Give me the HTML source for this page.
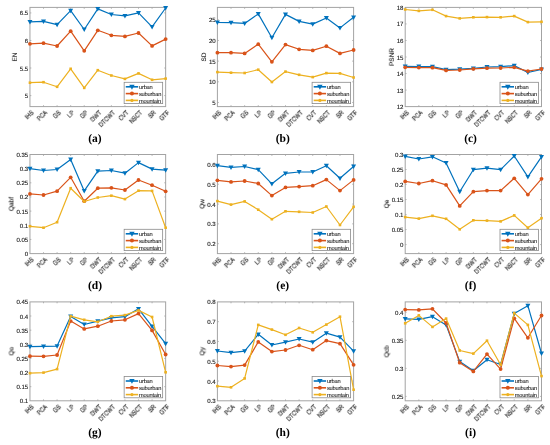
<!DOCTYPE html>
<html><head><meta charset="utf-8"><style>
html,body{margin:0;padding:0;background:#fff;}
svg{display:block;will-change:transform;}
text{text-rendering:geometricPrecision;}
.t,.xt,.yl,.lg{filter:blur(0.25px);}
.t{font-family:"Liberation Sans",sans-serif;font-size:6.1px;fill:#1a1a1a;stroke:#1a1a1a;stroke-width:0.12;}
.xt{font-family:"Liberation Sans",sans-serif;font-size:6.0px;fill:#1a1a1a;stroke:#1a1a1a;stroke-width:0.12;}
.lg{font-family:"Liberation Sans",sans-serif;font-size:5.7px;fill:#1a1a1a;stroke:#1a1a1a;stroke-width:0.08;letter-spacing:-0.18px;}
.yl{font-family:"Liberation Sans",sans-serif;font-size:6.5px;fill:#1a1a1a;stroke:#1a1a1a;stroke-width:0.12;}
.sub{font-family:"Liberation Serif",serif;font-weight:bold;font-size:11.5px;fill:#000;}
</style></head><body>
<svg width="550" height="445" viewBox="0 0 550 445">
<rect width="550" height="445" fill="#fff"/>
<g><rect x="29.95" y="7.4" width="135.7" height="99.2" fill="none" stroke="#a3a3a3" stroke-width="1"/><path d="M43.52,106.6v-1.4M43.52,7.4v1.4M57.09,106.6v-1.4M57.09,7.4v1.4M70.66,106.6v-1.4M70.66,7.4v1.4M84.23,106.6v-1.4M84.23,7.4v1.4M97.8,106.6v-1.4M97.8,7.4v1.4M111.37,106.6v-1.4M111.37,7.4v1.4M124.94,106.6v-1.4M124.94,7.4v1.4M138.51,106.6v-1.4M138.51,7.4v1.4M152.08,106.6v-1.4M152.08,7.4v1.4M29.95,95.58h1.4M165.65,95.58h-1.4M29.95,68.02h1.4M165.65,68.02h-1.4M29.95,40.47h1.4M165.65,40.47h-1.4M29.95,12.91h1.4M165.65,12.91h-1.4" stroke="#a3a3a3" stroke-width="0.8" fill="none"/><text x="28.25" y="98.08" text-anchor="end" class="t">5</text><text x="28.25" y="70.52" text-anchor="end" class="t">5.5</text><text x="28.25" y="42.97" text-anchor="end" class="t">6</text><text x="28.25" y="15.41" text-anchor="end" class="t">6.5</text><text transform="translate(16.87,57) rotate(-90)" text-anchor="middle" class="yl">EN</text><text transform="translate(34.15,113.2) rotate(-45) scale(0.94,1.12)" text-anchor="end" class="xt">IHS</text><text transform="translate(47.72,113.2) rotate(-45) scale(0.94,1.12)" text-anchor="end" class="xt">PCA</text><text transform="translate(61.29,113.2) rotate(-45) scale(0.94,1.12)" text-anchor="end" class="xt">GS</text><text transform="translate(74.86,113.2) rotate(-45) scale(0.94,1.12)" text-anchor="end" class="xt">LP</text><text transform="translate(88.43,113.2) rotate(-45) scale(0.94,1.12)" text-anchor="end" class="xt">GP</text><text transform="translate(102,113.2) rotate(-45) scale(0.94,1.12)" text-anchor="end" class="xt">DWT</text><text transform="translate(115.57,113.2) rotate(-45) scale(0.94,1.12)" text-anchor="end" class="xt">DTCWT</text><text transform="translate(129.14,113.2) rotate(-45) scale(0.94,1.12)" text-anchor="end" class="xt">CVT</text><text transform="translate(142.71,113.2) rotate(-45) scale(0.94,1.12)" text-anchor="end" class="xt">NSCT</text><text transform="translate(156.28,113.2) rotate(-45) scale(0.94,1.12)" text-anchor="end" class="xt">SR</text><text transform="translate(169.85,113.2) rotate(-45) scale(0.94,1.12)" text-anchor="end" class="xt">GTF</text><path d="M29.95,21.9L43.52,21.3L57.09,24.7L70.66,10.6L84.23,29.5L97.8,8.9L111.37,14.5L124.94,15.9L138.51,12.8L152.08,26.8L165.65,8" stroke="#0072BD" stroke-width="1.2" fill="none" stroke-linejoin="round"/><g fill="#0072BD"><path d="M27.45,20.02L32.45,20.02L29.95,24.52Z"/><path d="M41.02,19.43L46.02,19.43L43.52,23.93Z"/><path d="M54.59,22.82L59.59,22.82L57.09,27.32Z"/><path d="M68.16,8.72L73.16,8.72L70.66,13.22Z"/><path d="M81.73,27.62L86.73,27.62L84.23,32.12Z"/><path d="M95.3,7.03L100.3,7.03L97.8,11.53Z"/><path d="M108.87,12.62L113.87,12.62L111.37,17.12Z"/><path d="M122.44,14.03L127.44,14.03L124.94,18.52Z"/><path d="M136.01,10.93L141.01,10.93L138.51,15.43Z"/><path d="M149.58,24.93L154.58,24.93L152.08,29.43Z"/><path d="M163.15,6.12L168.15,6.12L165.65,10.62Z"/></g><path d="M29.95,43.8L43.52,43.2L57.09,46L70.66,31.2L84.23,50.8L97.8,30.3L111.37,35.3L124.94,36.4L138.51,33L152.08,45.9L165.65,39.1" stroke="#D95319" stroke-width="1.2" fill="none" stroke-linejoin="round"/><g fill="#D95319"><circle cx="29.95" cy="43.8" r="1.9"/><circle cx="43.52" cy="43.2" r="1.9"/><circle cx="57.09" cy="46" r="1.9"/><circle cx="70.66" cy="31.2" r="1.9"/><circle cx="84.23" cy="50.8" r="1.9"/><circle cx="97.8" cy="30.3" r="1.9"/><circle cx="111.37" cy="35.3" r="1.9"/><circle cx="124.94" cy="36.4" r="1.9"/><circle cx="138.51" cy="33" r="1.9"/><circle cx="152.08" cy="45.9" r="1.9"/><circle cx="165.65" cy="39.1" r="1.9"/></g><path d="M29.95,82.7L43.52,82.2L57.09,86.8L70.66,68.8L84.23,87.9L97.8,70.2L111.37,75.5L124.94,78.9L138.51,73.4L152.08,79.8L165.65,78.6" stroke="#EDB120" stroke-width="1.2" fill="none" stroke-linejoin="round"/><g fill="#EDB120"><rect x="28.65" y="81.4" width="2.6" height="2.6"/><rect x="42.22" y="80.9" width="2.6" height="2.6"/><rect x="55.79" y="85.5" width="2.6" height="2.6"/><rect x="69.36" y="67.5" width="2.6" height="2.6"/><rect x="82.93" y="86.6" width="2.6" height="2.6"/><rect x="96.5" y="68.9" width="2.6" height="2.6"/><rect x="110.07" y="74.2" width="2.6" height="2.6"/><rect x="123.64" y="77.6" width="2.6" height="2.6"/><rect x="137.21" y="72.1" width="2.6" height="2.6"/><rect x="150.78" y="78.5" width="2.6" height="2.6"/><rect x="164.35" y="77.3" width="2.6" height="2.6"/></g><rect x="124.15" y="82.3" width="38.5" height="21.3" fill="#fff" stroke="#8a8a8a" stroke-width="0.8"/><path d="M125.75,86.8H138.15" stroke="#0072BD" stroke-width="1.6"/><g fill="#0072BD"><path d="M129.25,84.77L134.65,84.77L131.95,89.63Z"/></g><text x="138.95" y="88.9" class="lg">urban</text><path d="M125.75,93.6H138.15" stroke="#D95319" stroke-width="1.6"/><circle cx="131.95" cy="93.6" r="2.0" fill="#D95319"/><text x="138.95" y="95.7" class="lg">suburban</text><path d="M125.75,100.4H138.15" stroke="#EDB120" stroke-width="1.6"/><circle cx="131.95" cy="100.4" r="1.6" fill="#EDB120"/><text x="138.95" y="102.5" class="lg">mountain</text><text x="95" y="141.5" text-anchor="middle" class="sub">(a)</text></g>
<g><rect x="217.4" y="7.4" width="136.2" height="99.2" fill="none" stroke="#a3a3a3" stroke-width="1"/><path d="M231.02,106.6v-1.4M231.02,7.4v1.4M244.64,106.6v-1.4M244.64,7.4v1.4M258.26,106.6v-1.4M258.26,7.4v1.4M271.88,106.6v-1.4M271.88,7.4v1.4M285.5,106.6v-1.4M285.5,7.4v1.4M299.12,106.6v-1.4M299.12,7.4v1.4M312.74,106.6v-1.4M312.74,7.4v1.4M326.36,106.6v-1.4M326.36,7.4v1.4M339.98,106.6v-1.4M339.98,7.4v1.4M217.4,102.47h1.4M353.6,102.47h-1.4M217.4,81.8h1.4M353.6,81.8h-1.4M217.4,61.13h1.4M353.6,61.13h-1.4M217.4,40.47h1.4M353.6,40.47h-1.4M217.4,19.8h1.4M353.6,19.8h-1.4" stroke="#a3a3a3" stroke-width="0.8" fill="none"/><text x="215.7" y="104.97" text-anchor="end" class="t">5</text><text x="215.7" y="84.3" text-anchor="end" class="t">10</text><text x="215.7" y="63.63" text-anchor="end" class="t">15</text><text x="215.7" y="42.97" text-anchor="end" class="t">20</text><text x="215.7" y="22.3" text-anchor="end" class="t">25</text><text transform="translate(206.02,57) rotate(-90)" text-anchor="middle" class="yl">SD</text><text transform="translate(221.6,113.2) rotate(-45) scale(0.94,1.12)" text-anchor="end" class="xt">IHS</text><text transform="translate(235.22,113.2) rotate(-45) scale(0.94,1.12)" text-anchor="end" class="xt">PCA</text><text transform="translate(248.84,113.2) rotate(-45) scale(0.94,1.12)" text-anchor="end" class="xt">GS</text><text transform="translate(262.46,113.2) rotate(-45) scale(0.94,1.12)" text-anchor="end" class="xt">LP</text><text transform="translate(276.08,113.2) rotate(-45) scale(0.94,1.12)" text-anchor="end" class="xt">GP</text><text transform="translate(289.7,113.2) rotate(-45) scale(0.94,1.12)" text-anchor="end" class="xt">DWT</text><text transform="translate(303.32,113.2) rotate(-45) scale(0.94,1.12)" text-anchor="end" class="xt">DTCWT</text><text transform="translate(316.94,113.2) rotate(-45) scale(0.94,1.12)" text-anchor="end" class="xt">CVT</text><text transform="translate(330.56,113.2) rotate(-45) scale(0.94,1.12)" text-anchor="end" class="xt">NSCT</text><text transform="translate(344.18,113.2) rotate(-45) scale(0.94,1.12)" text-anchor="end" class="xt">SR</text><text transform="translate(357.8,113.2) rotate(-45) scale(0.94,1.12)" text-anchor="end" class="xt">GTF</text><path d="M217.4,22.5L231.02,22.7L244.64,23.4L258.26,13.9L271.88,37.7L285.5,14.4L299.12,21.4L312.74,24.1L326.36,18L339.98,27.9L353.6,17.3" stroke="#0072BD" stroke-width="1.2" fill="none" stroke-linejoin="round"/><g fill="#0072BD"><path d="M214.9,20.62L219.9,20.62L217.4,25.12Z"/><path d="M228.52,20.82L233.52,20.82L231.02,25.32Z"/><path d="M242.14,21.52L247.14,21.52L244.64,26.02Z"/><path d="M255.76,12.03L260.76,12.03L258.26,16.52Z"/><path d="M269.38,35.83L274.38,35.83L271.88,40.33Z"/><path d="M283,12.53L288,12.53L285.5,17.02Z"/><path d="M296.62,19.52L301.62,19.52L299.12,24.02Z"/><path d="M310.24,22.23L315.24,22.23L312.74,26.73Z"/><path d="M323.86,16.12L328.86,16.12L326.36,20.62Z"/><path d="M337.48,26.02L342.48,26.02L339.98,30.52Z"/><path d="M351.1,15.43L356.1,15.43L353.6,19.93Z"/></g><path d="M217.4,52.7L231.02,52.7L244.64,53.4L258.26,44.2L271.88,61.8L285.5,44.6L299.12,49.3L312.74,50.4L326.36,46.2L339.98,53.4L353.6,50" stroke="#D95319" stroke-width="1.2" fill="none" stroke-linejoin="round"/><g fill="#D95319"><circle cx="217.4" cy="52.7" r="1.9"/><circle cx="231.02" cy="52.7" r="1.9"/><circle cx="244.64" cy="53.4" r="1.9"/><circle cx="258.26" cy="44.2" r="1.9"/><circle cx="271.88" cy="61.8" r="1.9"/><circle cx="285.5" cy="44.6" r="1.9"/><circle cx="299.12" cy="49.3" r="1.9"/><circle cx="312.74" cy="50.4" r="1.9"/><circle cx="326.36" cy="46.2" r="1.9"/><circle cx="339.98" cy="53.4" r="1.9"/><circle cx="353.6" cy="50" r="1.9"/></g><path d="M217.4,72.1L231.02,72.7L244.64,73L258.26,69.7L271.88,82L285.5,71.6L299.12,74.8L312.74,77.1L326.36,73.1L339.98,73.4L353.6,77.5" stroke="#EDB120" stroke-width="1.2" fill="none" stroke-linejoin="round"/><g fill="#EDB120"><rect x="216.1" y="70.8" width="2.6" height="2.6"/><rect x="229.72" y="71.4" width="2.6" height="2.6"/><rect x="243.34" y="71.7" width="2.6" height="2.6"/><rect x="256.96" y="68.4" width="2.6" height="2.6"/><rect x="270.58" y="80.7" width="2.6" height="2.6"/><rect x="284.2" y="70.3" width="2.6" height="2.6"/><rect x="297.82" y="73.5" width="2.6" height="2.6"/><rect x="311.44" y="75.8" width="2.6" height="2.6"/><rect x="325.06" y="71.8" width="2.6" height="2.6"/><rect x="338.68" y="72.1" width="2.6" height="2.6"/><rect x="352.3" y="76.2" width="2.6" height="2.6"/></g><rect x="312.1" y="82.3" width="38.5" height="21.3" fill="#fff" stroke="#8a8a8a" stroke-width="0.8"/><path d="M313.7,86.8H326.1" stroke="#0072BD" stroke-width="1.6"/><g fill="#0072BD"><path d="M317.2,84.77L322.6,84.77L319.9,89.63Z"/></g><text x="326.9" y="88.9" class="lg">urban</text><path d="M313.7,93.6H326.1" stroke="#D95319" stroke-width="1.6"/><circle cx="319.9" cy="93.6" r="2.0" fill="#D95319"/><text x="326.9" y="95.7" class="lg">suburban</text><path d="M313.7,100.4H326.1" stroke="#EDB120" stroke-width="1.6"/><circle cx="319.9" cy="100.4" r="1.6" fill="#EDB120"/><text x="326.9" y="102.5" class="lg">mountain</text><text x="282.7" y="141.5" text-anchor="middle" class="sub">(b)</text></g>
<g><rect x="405.2" y="7.4" width="136.3" height="99.2" fill="none" stroke="#a3a3a3" stroke-width="1"/><path d="M418.83,106.6v-1.4M418.83,7.4v1.4M432.46,106.6v-1.4M432.46,7.4v1.4M446.09,106.6v-1.4M446.09,7.4v1.4M459.72,106.6v-1.4M459.72,7.4v1.4M473.35,106.6v-1.4M473.35,7.4v1.4M486.98,106.6v-1.4M486.98,7.4v1.4M500.61,106.6v-1.4M500.61,7.4v1.4M514.24,106.6v-1.4M514.24,7.4v1.4M527.87,106.6v-1.4M527.87,7.4v1.4M405.2,90.07h1.4M541.5,90.07h-1.4M405.2,73.53h1.4M541.5,73.53h-1.4M405.2,57h1.4M541.5,57h-1.4M405.2,40.47h1.4M541.5,40.47h-1.4M405.2,23.93h1.4M541.5,23.93h-1.4" stroke="#a3a3a3" stroke-width="0.8" fill="none"/><text x="403.5" y="109.1" text-anchor="end" class="t">12</text><text x="403.5" y="92.57" text-anchor="end" class="t">13</text><text x="403.5" y="76.03" text-anchor="end" class="t">14</text><text x="403.5" y="59.5" text-anchor="end" class="t">15</text><text x="403.5" y="42.97" text-anchor="end" class="t">16</text><text x="403.5" y="26.43" text-anchor="end" class="t">17</text><text x="403.5" y="9.9" text-anchor="end" class="t">18</text><text transform="translate(393.82,57) rotate(-90)" text-anchor="middle" class="yl">PSNR</text><text transform="translate(409.4,113.2) rotate(-45) scale(0.94,1.12)" text-anchor="end" class="xt">IHS</text><text transform="translate(423.03,113.2) rotate(-45) scale(0.94,1.12)" text-anchor="end" class="xt">PCA</text><text transform="translate(436.66,113.2) rotate(-45) scale(0.94,1.12)" text-anchor="end" class="xt">GS</text><text transform="translate(450.29,113.2) rotate(-45) scale(0.94,1.12)" text-anchor="end" class="xt">LP</text><text transform="translate(463.92,113.2) rotate(-45) scale(0.94,1.12)" text-anchor="end" class="xt">GP</text><text transform="translate(477.55,113.2) rotate(-45) scale(0.94,1.12)" text-anchor="end" class="xt">DWT</text><text transform="translate(491.18,113.2) rotate(-45) scale(0.94,1.12)" text-anchor="end" class="xt">DTCWT</text><text transform="translate(504.81,113.2) rotate(-45) scale(0.94,1.12)" text-anchor="end" class="xt">CVT</text><text transform="translate(518.44,113.2) rotate(-45) scale(0.94,1.12)" text-anchor="end" class="xt">NSCT</text><text transform="translate(532.07,113.2) rotate(-45) scale(0.94,1.12)" text-anchor="end" class="xt">SR</text><text transform="translate(545.7,113.2) rotate(-45) scale(0.94,1.12)" text-anchor="end" class="xt">GTF</text><path d="M405.2,66.3L418.83,66.5L432.46,66.6L446.09,69.6L459.72,69.2L473.35,68.3L486.98,67L500.61,66.6L514.24,65.6L527.87,72.5L541.5,69.3" stroke="#0072BD" stroke-width="1.2" fill="none" stroke-linejoin="round"/><g fill="#0072BD"><path d="M402.7,64.42L407.7,64.42L405.2,68.92Z"/><path d="M416.33,64.62L421.33,64.62L418.83,69.12Z"/><path d="M429.96,64.72L434.96,64.72L432.46,69.22Z"/><path d="M443.59,67.72L448.59,67.72L446.09,72.22Z"/><path d="M457.22,67.33L462.22,67.33L459.72,71.83Z"/><path d="M470.85,66.42L475.85,66.42L473.35,70.92Z"/><path d="M484.48,65.12L489.48,65.12L486.98,69.62Z"/><path d="M498.11,64.72L503.11,64.72L500.61,69.22Z"/><path d="M511.74,63.72L516.74,63.72L514.24,68.22Z"/><path d="M525.37,70.62L530.37,70.62L527.87,75.12Z"/><path d="M539,67.42L544,67.42L541.5,71.92Z"/></g><path d="M405.2,67.3L418.83,67.6L432.46,67.7L446.09,70.4L459.72,70L473.35,68.9L486.98,68.2L500.61,68L514.24,67.3L527.87,71.1L541.5,69" stroke="#D95319" stroke-width="1.2" fill="none" stroke-linejoin="round"/><g fill="#D95319"><circle cx="405.2" cy="67.3" r="1.9"/><circle cx="418.83" cy="67.6" r="1.9"/><circle cx="432.46" cy="67.7" r="1.9"/><circle cx="446.09" cy="70.4" r="1.9"/><circle cx="459.72" cy="70" r="1.9"/><circle cx="473.35" cy="68.9" r="1.9"/><circle cx="486.98" cy="68.2" r="1.9"/><circle cx="500.61" cy="68" r="1.9"/><circle cx="514.24" cy="67.3" r="1.9"/><circle cx="527.87" cy="71.1" r="1.9"/><circle cx="541.5" cy="69" r="1.9"/></g><path d="M405.2,9.5L418.83,10.9L432.46,9.8L446.09,16.1L459.72,18.4L473.35,17.3L486.98,17.1L500.61,17.3L514.24,16.1L527.87,22.1L541.5,21.8" stroke="#EDB120" stroke-width="1.2" fill="none" stroke-linejoin="round"/><g fill="#EDB120"><rect x="403.9" y="8.2" width="2.6" height="2.6"/><rect x="417.53" y="9.6" width="2.6" height="2.6"/><rect x="431.16" y="8.5" width="2.6" height="2.6"/><rect x="444.79" y="14.8" width="2.6" height="2.6"/><rect x="458.42" y="17.1" width="2.6" height="2.6"/><rect x="472.05" y="16" width="2.6" height="2.6"/><rect x="485.68" y="15.8" width="2.6" height="2.6"/><rect x="499.31" y="16" width="2.6" height="2.6"/><rect x="512.94" y="14.8" width="2.6" height="2.6"/><rect x="526.57" y="20.8" width="2.6" height="2.6"/><rect x="540.2" y="20.5" width="2.6" height="2.6"/></g><rect x="500" y="82.3" width="38.5" height="21.3" fill="#fff" stroke="#8a8a8a" stroke-width="0.8"/><path d="M501.6,86.8H514" stroke="#0072BD" stroke-width="1.6"/><g fill="#0072BD"><path d="M505.1,84.77L510.5,84.77L507.8,89.63Z"/></g><text x="514.8" y="88.9" class="lg">urban</text><path d="M501.6,93.6H514" stroke="#D95319" stroke-width="1.6"/><circle cx="507.8" cy="93.6" r="2.0" fill="#D95319"/><text x="514.8" y="95.7" class="lg">suburban</text><path d="M501.6,100.4H514" stroke="#EDB120" stroke-width="1.6"/><circle cx="507.8" cy="100.4" r="1.6" fill="#EDB120"/><text x="514.8" y="102.5" class="lg">mountain</text><text x="470.55" y="141.5" text-anchor="middle" class="sub">(c)</text></g>
<g><rect x="29.95" y="154.5" width="135.7" height="99.1" fill="none" stroke="#a3a3a3" stroke-width="1"/><path d="M43.52,253.6v-1.4M43.52,154.5v1.4M57.09,253.6v-1.4M57.09,154.5v1.4M70.66,253.6v-1.4M70.66,154.5v1.4M84.23,253.6v-1.4M84.23,154.5v1.4M97.8,253.6v-1.4M97.8,154.5v1.4M111.37,253.6v-1.4M111.37,154.5v1.4M124.94,253.6v-1.4M124.94,154.5v1.4M138.51,253.6v-1.4M138.51,154.5v1.4M152.08,253.6v-1.4M152.08,154.5v1.4M29.95,239.44h1.4M165.65,239.44h-1.4M29.95,225.29h1.4M165.65,225.29h-1.4M29.95,211.13h1.4M165.65,211.13h-1.4M29.95,196.97h1.4M165.65,196.97h-1.4M29.95,182.81h1.4M165.65,182.81h-1.4M29.95,168.66h1.4M165.65,168.66h-1.4" stroke="#a3a3a3" stroke-width="0.8" fill="none"/><text x="28.25" y="256.1" text-anchor="end" class="t">0</text><text x="28.25" y="241.94" text-anchor="end" class="t">0.05</text><text x="28.25" y="227.79" text-anchor="end" class="t">0.1</text><text x="28.25" y="213.63" text-anchor="end" class="t">0.15</text><text x="28.25" y="199.47" text-anchor="end" class="t">0.2</text><text x="28.25" y="185.31" text-anchor="end" class="t">0.25</text><text x="28.25" y="171.16" text-anchor="end" class="t">0.3</text><text x="28.25" y="157" text-anchor="end" class="t">0.35</text><text transform="translate(13.48,204.05) rotate(-90)" text-anchor="middle" class="yl">Qabf</text><text transform="translate(34.15,260.2) rotate(-45) scale(0.94,1.12)" text-anchor="end" class="xt">IHS</text><text transform="translate(47.72,260.2) rotate(-45) scale(0.94,1.12)" text-anchor="end" class="xt">PCA</text><text transform="translate(61.29,260.2) rotate(-45) scale(0.94,1.12)" text-anchor="end" class="xt">GS</text><text transform="translate(74.86,260.2) rotate(-45) scale(0.94,1.12)" text-anchor="end" class="xt">LP</text><text transform="translate(88.43,260.2) rotate(-45) scale(0.94,1.12)" text-anchor="end" class="xt">GP</text><text transform="translate(102,260.2) rotate(-45) scale(0.94,1.12)" text-anchor="end" class="xt">DWT</text><text transform="translate(115.57,260.2) rotate(-45) scale(0.94,1.12)" text-anchor="end" class="xt">DTCWT</text><text transform="translate(129.14,260.2) rotate(-45) scale(0.94,1.12)" text-anchor="end" class="xt">CVT</text><text transform="translate(142.71,260.2) rotate(-45) scale(0.94,1.12)" text-anchor="end" class="xt">NSCT</text><text transform="translate(156.28,260.2) rotate(-45) scale(0.94,1.12)" text-anchor="end" class="xt">SR</text><text transform="translate(169.85,260.2) rotate(-45) scale(0.94,1.12)" text-anchor="end" class="xt">GTF</text><path d="M29.95,168.7L43.52,170.5L57.09,169.5L70.66,159.5L84.23,190.9L97.8,171.1L111.37,170.5L124.94,173.2L138.51,162.6L152.08,169.1L165.65,170.2" stroke="#0072BD" stroke-width="1.2" fill="none" stroke-linejoin="round"/><g fill="#0072BD"><path d="M27.45,166.82L32.45,166.82L29.95,171.32Z"/><path d="M41.02,168.62L46.02,168.62L43.52,173.12Z"/><path d="M54.59,167.62L59.59,167.62L57.09,172.12Z"/><path d="M68.16,157.62L73.16,157.62L70.66,162.12Z"/><path d="M81.73,189.03L86.73,189.03L84.23,193.53Z"/><path d="M95.3,169.22L100.3,169.22L97.8,173.72Z"/><path d="M108.87,168.62L113.87,168.62L111.37,173.12Z"/><path d="M122.44,171.32L127.44,171.32L124.94,175.82Z"/><path d="M136.01,160.72L141.01,160.72L138.51,165.22Z"/><path d="M149.58,167.22L154.58,167.22L152.08,171.72Z"/><path d="M163.15,168.32L168.15,168.32L165.65,172.82Z"/></g><path d="M29.95,193.9L43.52,195L57.09,191.2L70.66,177.3L84.23,201.2L97.8,188.2L111.37,187.8L124.94,190L138.51,180L152.08,185.2L165.65,191.3" stroke="#D95319" stroke-width="1.2" fill="none" stroke-linejoin="round"/><g fill="#D95319"><circle cx="29.95" cy="193.9" r="1.9"/><circle cx="43.52" cy="195" r="1.9"/><circle cx="57.09" cy="191.2" r="1.9"/><circle cx="70.66" cy="177.3" r="1.9"/><circle cx="84.23" cy="201.2" r="1.9"/><circle cx="97.8" cy="188.2" r="1.9"/><circle cx="111.37" cy="187.8" r="1.9"/><circle cx="124.94" cy="190" r="1.9"/><circle cx="138.51" cy="180" r="1.9"/><circle cx="152.08" cy="185.2" r="1.9"/><circle cx="165.65" cy="191.3" r="1.9"/></g><path d="M29.95,226.3L43.52,227.7L57.09,222.2L70.66,188.2L84.23,201.5L97.8,197.5L111.37,195.7L124.94,199.1L138.51,190.7L152.08,190.9L165.65,227.7" stroke="#EDB120" stroke-width="1.2" fill="none" stroke-linejoin="round"/><g fill="#EDB120"><rect x="28.65" y="225" width="2.6" height="2.6"/><rect x="42.22" y="226.4" width="2.6" height="2.6"/><rect x="55.79" y="220.9" width="2.6" height="2.6"/><rect x="69.36" y="186.9" width="2.6" height="2.6"/><rect x="82.93" y="200.2" width="2.6" height="2.6"/><rect x="96.5" y="196.2" width="2.6" height="2.6"/><rect x="110.07" y="194.4" width="2.6" height="2.6"/><rect x="123.64" y="197.8" width="2.6" height="2.6"/><rect x="137.21" y="189.4" width="2.6" height="2.6"/><rect x="150.78" y="189.6" width="2.6" height="2.6"/><rect x="164.35" y="226.4" width="2.6" height="2.6"/></g><rect x="124.15" y="229.3" width="38.5" height="21.3" fill="#fff" stroke="#8a8a8a" stroke-width="0.8"/><path d="M125.75,233.8H138.15" stroke="#0072BD" stroke-width="1.6"/><g fill="#0072BD"><path d="M129.25,231.77L134.65,231.77L131.95,236.63Z"/></g><text x="138.95" y="235.9" class="lg">urban</text><path d="M125.75,240.6H138.15" stroke="#D95319" stroke-width="1.6"/><circle cx="131.95" cy="240.6" r="2.0" fill="#D95319"/><text x="138.95" y="242.7" class="lg">suburban</text><path d="M125.75,247.4H138.15" stroke="#EDB120" stroke-width="1.6"/><circle cx="131.95" cy="247.4" r="1.6" fill="#EDB120"/><text x="138.95" y="249.5" class="lg">mountain</text><text x="95" y="288.8" text-anchor="middle" class="sub">(d)</text></g>
<g><rect x="217.4" y="154.5" width="136.2" height="99.1" fill="none" stroke="#a3a3a3" stroke-width="1"/><path d="M231.02,253.6v-1.4M231.02,154.5v1.4M244.64,253.6v-1.4M244.64,154.5v1.4M258.26,253.6v-1.4M258.26,154.5v1.4M271.88,253.6v-1.4M271.88,154.5v1.4M285.5,253.6v-1.4M285.5,154.5v1.4M299.12,253.6v-1.4M299.12,154.5v1.4M312.74,253.6v-1.4M312.74,154.5v1.4M326.36,253.6v-1.4M326.36,154.5v1.4M339.98,253.6v-1.4M339.98,154.5v1.4M217.4,243.69h1.4M353.6,243.69h-1.4M217.4,223.87h1.4M353.6,223.87h-1.4M217.4,204.05h1.4M353.6,204.05h-1.4M217.4,184.23h1.4M353.6,184.23h-1.4M217.4,164.41h1.4M353.6,164.41h-1.4" stroke="#a3a3a3" stroke-width="0.8" fill="none"/><text x="215.7" y="246.19" text-anchor="end" class="t">0.2</text><text x="215.7" y="226.37" text-anchor="end" class="t">0.3</text><text x="215.7" y="206.55" text-anchor="end" class="t">0.4</text><text x="215.7" y="186.73" text-anchor="end" class="t">0.5</text><text x="215.7" y="166.91" text-anchor="end" class="t">0.6</text><text transform="translate(204.32,204.05) rotate(-90)" text-anchor="middle" class="yl">Qw</text><text transform="translate(221.6,260.2) rotate(-45) scale(0.94,1.12)" text-anchor="end" class="xt">IHS</text><text transform="translate(235.22,260.2) rotate(-45) scale(0.94,1.12)" text-anchor="end" class="xt">PCA</text><text transform="translate(248.84,260.2) rotate(-45) scale(0.94,1.12)" text-anchor="end" class="xt">GS</text><text transform="translate(262.46,260.2) rotate(-45) scale(0.94,1.12)" text-anchor="end" class="xt">LP</text><text transform="translate(276.08,260.2) rotate(-45) scale(0.94,1.12)" text-anchor="end" class="xt">GP</text><text transform="translate(289.7,260.2) rotate(-45) scale(0.94,1.12)" text-anchor="end" class="xt">DWT</text><text transform="translate(303.32,260.2) rotate(-45) scale(0.94,1.12)" text-anchor="end" class="xt">DTCWT</text><text transform="translate(316.94,260.2) rotate(-45) scale(0.94,1.12)" text-anchor="end" class="xt">CVT</text><text transform="translate(330.56,260.2) rotate(-45) scale(0.94,1.12)" text-anchor="end" class="xt">NSCT</text><text transform="translate(344.18,260.2) rotate(-45) scale(0.94,1.12)" text-anchor="end" class="xt">SR</text><text transform="translate(357.8,260.2) rotate(-45) scale(0.94,1.12)" text-anchor="end" class="xt">GTF</text><path d="M217.4,165.7L231.02,167.3L244.64,166.5L258.26,169.7L271.88,183.8L285.5,173.3L299.12,172L312.74,172L326.36,165.7L339.98,178.3L353.6,166.5" stroke="#0072BD" stroke-width="1.2" fill="none" stroke-linejoin="round"/><g fill="#0072BD"><path d="M214.9,163.82L219.9,163.82L217.4,168.32Z"/><path d="M228.52,165.43L233.52,165.43L231.02,169.93Z"/><path d="M242.14,164.62L247.14,164.62L244.64,169.12Z"/><path d="M255.76,167.82L260.76,167.82L258.26,172.32Z"/><path d="M269.38,181.93L274.38,181.93L271.88,186.43Z"/><path d="M283,171.43L288,171.43L285.5,175.93Z"/><path d="M296.62,170.12L301.62,170.12L299.12,174.62Z"/><path d="M310.24,170.12L315.24,170.12L312.74,174.62Z"/><path d="M323.86,163.82L328.86,163.82L326.36,168.32Z"/><path d="M337.48,176.43L342.48,176.43L339.98,180.93Z"/><path d="M351.1,164.62L356.1,164.62L353.6,169.12Z"/></g><path d="M217.4,180.3L231.02,181.9L244.64,181L258.26,183.5L271.88,195.6L285.5,187.4L299.12,186.6L312.74,185.7L326.36,179.6L339.98,190.6L353.6,179.9" stroke="#D95319" stroke-width="1.2" fill="none" stroke-linejoin="round"/><g fill="#D95319"><circle cx="217.4" cy="180.3" r="1.9"/><circle cx="231.02" cy="181.9" r="1.9"/><circle cx="244.64" cy="181" r="1.9"/><circle cx="258.26" cy="183.5" r="1.9"/><circle cx="271.88" cy="195.6" r="1.9"/><circle cx="285.5" cy="187.4" r="1.9"/><circle cx="299.12" cy="186.6" r="1.9"/><circle cx="312.74" cy="185.7" r="1.9"/><circle cx="326.36" cy="179.6" r="1.9"/><circle cx="339.98" cy="190.6" r="1.9"/><circle cx="353.6" cy="179.9" r="1.9"/></g><path d="M217.4,201.1L231.02,204.6L244.64,201.4L258.26,209.7L271.88,219.2L285.5,211.3L299.12,211.8L312.74,212.5L326.36,206.5L339.98,225L353.6,206.8" stroke="#EDB120" stroke-width="1.2" fill="none" stroke-linejoin="round"/><g fill="#EDB120"><rect x="216.1" y="199.8" width="2.6" height="2.6"/><rect x="229.72" y="203.3" width="2.6" height="2.6"/><rect x="243.34" y="200.1" width="2.6" height="2.6"/><rect x="256.96" y="208.4" width="2.6" height="2.6"/><rect x="270.58" y="217.9" width="2.6" height="2.6"/><rect x="284.2" y="210" width="2.6" height="2.6"/><rect x="297.82" y="210.5" width="2.6" height="2.6"/><rect x="311.44" y="211.2" width="2.6" height="2.6"/><rect x="325.06" y="205.2" width="2.6" height="2.6"/><rect x="338.68" y="223.7" width="2.6" height="2.6"/><rect x="352.3" y="205.5" width="2.6" height="2.6"/></g><rect x="312.1" y="229.3" width="38.5" height="21.3" fill="#fff" stroke="#8a8a8a" stroke-width="0.8"/><path d="M313.7,233.8H326.1" stroke="#0072BD" stroke-width="1.6"/><g fill="#0072BD"><path d="M317.2,231.77L322.6,231.77L319.9,236.63Z"/></g><text x="326.9" y="235.9" class="lg">urban</text><path d="M313.7,240.6H326.1" stroke="#D95319" stroke-width="1.6"/><circle cx="319.9" cy="240.6" r="2.0" fill="#D95319"/><text x="326.9" y="242.7" class="lg">suburban</text><path d="M313.7,247.4H326.1" stroke="#EDB120" stroke-width="1.6"/><circle cx="319.9" cy="247.4" r="1.6" fill="#EDB120"/><text x="326.9" y="249.5" class="lg">mountain</text><text x="282.7" y="288.8" text-anchor="middle" class="sub">(e)</text></g>
<g><rect x="405.2" y="154.5" width="136.3" height="99.1" fill="none" stroke="#a3a3a3" stroke-width="1"/><path d="M418.83,253.6v-1.4M418.83,154.5v1.4M432.46,253.6v-1.4M432.46,154.5v1.4M446.09,253.6v-1.4M446.09,154.5v1.4M459.72,253.6v-1.4M459.72,154.5v1.4M473.35,253.6v-1.4M473.35,154.5v1.4M486.98,253.6v-1.4M486.98,154.5v1.4M500.61,253.6v-1.4M500.61,154.5v1.4M514.24,253.6v-1.4M514.24,154.5v1.4M527.87,253.6v-1.4M527.87,154.5v1.4M405.2,244.59h1.4M541.5,244.59h-1.4M405.2,229.58h1.4M541.5,229.58h-1.4M405.2,214.56h1.4M541.5,214.56h-1.4M405.2,199.55h1.4M541.5,199.55h-1.4M405.2,184.53h1.4M541.5,184.53h-1.4M405.2,169.52h1.4M541.5,169.52h-1.4" stroke="#a3a3a3" stroke-width="0.8" fill="none"/><text x="403.5" y="247.09" text-anchor="end" class="t">0</text><text x="403.5" y="232.08" text-anchor="end" class="t">0.05</text><text x="403.5" y="217.06" text-anchor="end" class="t">0.1</text><text x="403.5" y="202.05" text-anchor="end" class="t">0.15</text><text x="403.5" y="187.03" text-anchor="end" class="t">0.2</text><text x="403.5" y="172.02" text-anchor="end" class="t">0.25</text><text x="403.5" y="157" text-anchor="end" class="t">0.3</text><text transform="translate(388.73,204.05) rotate(-90)" text-anchor="middle" class="yl">Qe</text><text transform="translate(409.4,260.2) rotate(-45) scale(0.94,1.12)" text-anchor="end" class="xt">IHS</text><text transform="translate(423.03,260.2) rotate(-45) scale(0.94,1.12)" text-anchor="end" class="xt">PCA</text><text transform="translate(436.66,260.2) rotate(-45) scale(0.94,1.12)" text-anchor="end" class="xt">GS</text><text transform="translate(450.29,260.2) rotate(-45) scale(0.94,1.12)" text-anchor="end" class="xt">LP</text><text transform="translate(463.92,260.2) rotate(-45) scale(0.94,1.12)" text-anchor="end" class="xt">GP</text><text transform="translate(477.55,260.2) rotate(-45) scale(0.94,1.12)" text-anchor="end" class="xt">DWT</text><text transform="translate(491.18,260.2) rotate(-45) scale(0.94,1.12)" text-anchor="end" class="xt">DTCWT</text><text transform="translate(504.81,260.2) rotate(-45) scale(0.94,1.12)" text-anchor="end" class="xt">CVT</text><text transform="translate(518.44,260.2) rotate(-45) scale(0.94,1.12)" text-anchor="end" class="xt">NSCT</text><text transform="translate(532.07,260.2) rotate(-45) scale(0.94,1.12)" text-anchor="end" class="xt">SR</text><text transform="translate(545.7,260.2) rotate(-45) scale(0.94,1.12)" text-anchor="end" class="xt">GTF</text><path d="M405.2,156.3L418.83,159L432.46,156.8L446.09,163L459.72,191.7L473.35,169.7L486.98,168.1L500.61,169.7L514.24,156L527.87,176.8L541.5,156.8" stroke="#0072BD" stroke-width="1.2" fill="none" stroke-linejoin="round"/><g fill="#0072BD"><path d="M402.7,154.43L407.7,154.43L405.2,158.93Z"/><path d="M416.33,157.12L421.33,157.12L418.83,161.62Z"/><path d="M429.96,154.93L434.96,154.93L432.46,159.43Z"/><path d="M443.59,161.12L448.59,161.12L446.09,165.62Z"/><path d="M457.22,189.82L462.22,189.82L459.72,194.32Z"/><path d="M470.85,167.82L475.85,167.82L473.35,172.32Z"/><path d="M484.48,166.22L489.48,166.22L486.98,170.72Z"/><path d="M498.11,167.82L503.11,167.82L500.61,172.32Z"/><path d="M511.74,154.12L516.74,154.12L514.24,158.62Z"/><path d="M525.37,174.93L530.37,174.93L527.87,179.43Z"/><path d="M539,154.93L544,154.93L541.5,159.43Z"/></g><path d="M405.2,181.4L418.83,183.5L432.46,180.7L446.09,184.9L459.72,205.9L473.35,191.7L486.98,190.6L500.61,190.6L514.24,178.3L527.87,194.6L541.5,178.8" stroke="#D95319" stroke-width="1.2" fill="none" stroke-linejoin="round"/><g fill="#D95319"><circle cx="405.2" cy="181.4" r="1.9"/><circle cx="418.83" cy="183.5" r="1.9"/><circle cx="432.46" cy="180.7" r="1.9"/><circle cx="446.09" cy="184.9" r="1.9"/><circle cx="459.72" cy="205.9" r="1.9"/><circle cx="473.35" cy="191.7" r="1.9"/><circle cx="486.98" cy="190.6" r="1.9"/><circle cx="500.61" cy="190.6" r="1.9"/><circle cx="514.24" cy="178.3" r="1.9"/><circle cx="527.87" cy="194.6" r="1.9"/><circle cx="541.5" cy="178.8" r="1.9"/></g><path d="M405.2,217.1L418.83,218.6L432.46,215.8L446.09,218.8L459.72,229.3L473.35,220.3L486.98,220.6L500.61,221.4L514.24,215.4L527.87,227.7L541.5,218.2" stroke="#EDB120" stroke-width="1.2" fill="none" stroke-linejoin="round"/><g fill="#EDB120"><rect x="403.9" y="215.8" width="2.6" height="2.6"/><rect x="417.53" y="217.3" width="2.6" height="2.6"/><rect x="431.16" y="214.5" width="2.6" height="2.6"/><rect x="444.79" y="217.5" width="2.6" height="2.6"/><rect x="458.42" y="228" width="2.6" height="2.6"/><rect x="472.05" y="219" width="2.6" height="2.6"/><rect x="485.68" y="219.3" width="2.6" height="2.6"/><rect x="499.31" y="220.1" width="2.6" height="2.6"/><rect x="512.94" y="214.1" width="2.6" height="2.6"/><rect x="526.57" y="226.4" width="2.6" height="2.6"/><rect x="540.2" y="216.9" width="2.6" height="2.6"/></g><rect x="500" y="229.3" width="38.5" height="21.3" fill="#fff" stroke="#8a8a8a" stroke-width="0.8"/><path d="M501.6,233.8H514" stroke="#0072BD" stroke-width="1.6"/><g fill="#0072BD"><path d="M505.1,231.77L510.5,231.77L507.8,236.63Z"/></g><text x="514.8" y="235.9" class="lg">urban</text><path d="M501.6,240.6H514" stroke="#D95319" stroke-width="1.6"/><circle cx="507.8" cy="240.6" r="2.0" fill="#D95319"/><text x="514.8" y="242.7" class="lg">suburban</text><path d="M501.6,247.4H514" stroke="#EDB120" stroke-width="1.6"/><circle cx="507.8" cy="247.4" r="1.6" fill="#EDB120"/><text x="514.8" y="249.5" class="lg">mountain</text><text x="470.55" y="288.8" text-anchor="middle" class="sub">(f)</text></g>
<g><rect x="29.95" y="301.9" width="135.7" height="98.9" fill="none" stroke="#a3a3a3" stroke-width="1"/><path d="M43.52,400.8v-1.4M43.52,301.9v1.4M57.09,400.8v-1.4M57.09,301.9v1.4M70.66,400.8v-1.4M70.66,301.9v1.4M84.23,400.8v-1.4M84.23,301.9v1.4M97.8,400.8v-1.4M97.8,301.9v1.4M111.37,400.8v-1.4M111.37,301.9v1.4M124.94,400.8v-1.4M124.94,301.9v1.4M138.51,400.8v-1.4M138.51,301.9v1.4M152.08,400.8v-1.4M152.08,301.9v1.4M29.95,386.67h1.4M165.65,386.67h-1.4M29.95,372.54h1.4M165.65,372.54h-1.4M29.95,358.41h1.4M165.65,358.41h-1.4M29.95,344.29h1.4M165.65,344.29h-1.4M29.95,330.16h1.4M165.65,330.16h-1.4M29.95,316.03h1.4M165.65,316.03h-1.4" stroke="#a3a3a3" stroke-width="0.8" fill="none"/><text x="28.25" y="403.3" text-anchor="end" class="t">0.1</text><text x="28.25" y="389.17" text-anchor="end" class="t">0.15</text><text x="28.25" y="375.04" text-anchor="end" class="t">0.2</text><text x="28.25" y="360.91" text-anchor="end" class="t">0.25</text><text x="28.25" y="346.79" text-anchor="end" class="t">0.3</text><text x="28.25" y="332.66" text-anchor="end" class="t">0.35</text><text x="28.25" y="318.53" text-anchor="end" class="t">0.4</text><text x="28.25" y="304.4" text-anchor="end" class="t">0.45</text><text transform="translate(13.48,351.35) rotate(-90)" text-anchor="middle" class="yl">Qo</text><text transform="translate(34.15,407.4) rotate(-45) scale(0.94,1.12)" text-anchor="end" class="xt">IHS</text><text transform="translate(47.72,407.4) rotate(-45) scale(0.94,1.12)" text-anchor="end" class="xt">PCA</text><text transform="translate(61.29,407.4) rotate(-45) scale(0.94,1.12)" text-anchor="end" class="xt">GS</text><text transform="translate(74.86,407.4) rotate(-45) scale(0.94,1.12)" text-anchor="end" class="xt">LP</text><text transform="translate(88.43,407.4) rotate(-45) scale(0.94,1.12)" text-anchor="end" class="xt">GP</text><text transform="translate(102,407.4) rotate(-45) scale(0.94,1.12)" text-anchor="end" class="xt">DWT</text><text transform="translate(115.57,407.4) rotate(-45) scale(0.94,1.12)" text-anchor="end" class="xt">DTCWT</text><text transform="translate(129.14,407.4) rotate(-45) scale(0.94,1.12)" text-anchor="end" class="xt">CVT</text><text transform="translate(142.71,407.4) rotate(-45) scale(0.94,1.12)" text-anchor="end" class="xt">NSCT</text><text transform="translate(156.28,407.4) rotate(-45) scale(0.94,1.12)" text-anchor="end" class="xt">SR</text><text transform="translate(169.85,407.4) rotate(-45) scale(0.94,1.12)" text-anchor="end" class="xt">GTF</text><path d="M29.95,346.6L43.52,346.4L57.09,346.1L70.66,316.4L84.23,324.5L97.8,321.1L111.37,317.8L124.94,316.7L138.51,308.8L152.08,326.4L165.65,343.7" stroke="#0072BD" stroke-width="1.2" fill="none" stroke-linejoin="round"/><g fill="#0072BD"><path d="M27.45,344.73L32.45,344.73L29.95,349.23Z"/><path d="M41.02,344.52L46.02,344.52L43.52,349.02Z"/><path d="M54.59,344.23L59.59,344.23L57.09,348.73Z"/><path d="M68.16,314.52L73.16,314.52L70.66,319.02Z"/><path d="M81.73,322.62L86.73,322.62L84.23,327.12Z"/><path d="M95.3,319.23L100.3,319.23L97.8,323.73Z"/><path d="M108.87,315.93L113.87,315.93L111.37,320.43Z"/><path d="M122.44,314.82L127.44,314.82L124.94,319.32Z"/><path d="M136.01,306.93L141.01,306.93L138.51,311.43Z"/><path d="M149.58,324.52L154.58,324.52L152.08,329.02Z"/><path d="M163.15,341.82L168.15,341.82L165.65,346.32Z"/></g><path d="M29.95,356.2L43.52,356.3L57.09,355L70.66,321.1L84.23,328.9L97.8,326.2L111.37,321L124.94,319.8L138.51,313.6L152.08,330.4L165.65,354.5" stroke="#D95319" stroke-width="1.2" fill="none" stroke-linejoin="round"/><g fill="#D95319"><circle cx="29.95" cy="356.2" r="1.9"/><circle cx="43.52" cy="356.3" r="1.9"/><circle cx="57.09" cy="355" r="1.9"/><circle cx="70.66" cy="321.1" r="1.9"/><circle cx="84.23" cy="328.9" r="1.9"/><circle cx="97.8" cy="326.2" r="1.9"/><circle cx="111.37" cy="321" r="1.9"/><circle cx="124.94" cy="319.8" r="1.9"/><circle cx="138.51" cy="313.6" r="1.9"/><circle cx="152.08" cy="330.4" r="1.9"/><circle cx="165.65" cy="354.5" r="1.9"/></g><path d="M29.95,373.2L43.52,372.6L57.09,369.1L70.66,316.2L84.23,319.8L97.8,321.8L111.37,316.2L124.94,315.1L138.51,310.4L152.08,317L165.65,372.3" stroke="#EDB120" stroke-width="1.2" fill="none" stroke-linejoin="round"/><g fill="#EDB120"><rect x="28.65" y="371.9" width="2.6" height="2.6"/><rect x="42.22" y="371.3" width="2.6" height="2.6"/><rect x="55.79" y="367.8" width="2.6" height="2.6"/><rect x="69.36" y="314.9" width="2.6" height="2.6"/><rect x="82.93" y="318.5" width="2.6" height="2.6"/><rect x="96.5" y="320.5" width="2.6" height="2.6"/><rect x="110.07" y="314.9" width="2.6" height="2.6"/><rect x="123.64" y="313.8" width="2.6" height="2.6"/><rect x="137.21" y="309.1" width="2.6" height="2.6"/><rect x="150.78" y="315.7" width="2.6" height="2.6"/><rect x="164.35" y="371" width="2.6" height="2.6"/></g><rect x="124.15" y="376.5" width="38.5" height="21.3" fill="#fff" stroke="#8a8a8a" stroke-width="0.8"/><path d="M125.75,381H138.15" stroke="#0072BD" stroke-width="1.6"/><g fill="#0072BD"><path d="M129.25,378.98L134.65,378.98L131.95,383.83Z"/></g><text x="138.95" y="383.1" class="lg">urban</text><path d="M125.75,387.8H138.15" stroke="#D95319" stroke-width="1.6"/><circle cx="131.95" cy="387.8" r="2.0" fill="#D95319"/><text x="138.95" y="389.9" class="lg">suburban</text><path d="M125.75,394.6H138.15" stroke="#EDB120" stroke-width="1.6"/><circle cx="131.95" cy="394.6" r="1.6" fill="#EDB120"/><text x="138.95" y="396.7" class="lg">mountain</text><text x="95" y="436" text-anchor="middle" class="sub">(g)</text></g>
<g><rect x="217.4" y="301.9" width="136.2" height="98.9" fill="none" stroke="#a3a3a3" stroke-width="1"/><path d="M231.02,400.8v-1.4M231.02,301.9v1.4M244.64,400.8v-1.4M244.64,301.9v1.4M258.26,400.8v-1.4M258.26,301.9v1.4M271.88,400.8v-1.4M271.88,301.9v1.4M285.5,400.8v-1.4M285.5,301.9v1.4M299.12,400.8v-1.4M299.12,301.9v1.4M312.74,400.8v-1.4M312.74,301.9v1.4M326.36,400.8v-1.4M326.36,301.9v1.4M339.98,400.8v-1.4M339.98,301.9v1.4M217.4,381.02h1.4M353.6,381.02h-1.4M217.4,361.24h1.4M353.6,361.24h-1.4M217.4,341.46h1.4M353.6,341.46h-1.4M217.4,321.68h1.4M353.6,321.68h-1.4" stroke="#a3a3a3" stroke-width="0.8" fill="none"/><text x="215.7" y="403.3" text-anchor="end" class="t">0.3</text><text x="215.7" y="383.52" text-anchor="end" class="t">0.4</text><text x="215.7" y="363.74" text-anchor="end" class="t">0.5</text><text x="215.7" y="343.96" text-anchor="end" class="t">0.6</text><text x="215.7" y="324.18" text-anchor="end" class="t">0.7</text><text x="215.7" y="304.4" text-anchor="end" class="t">0.8</text><text transform="translate(204.32,351.35) rotate(-90)" text-anchor="middle" class="yl">Qy</text><text transform="translate(221.6,407.4) rotate(-45) scale(0.94,1.12)" text-anchor="end" class="xt">IHS</text><text transform="translate(235.22,407.4) rotate(-45) scale(0.94,1.12)" text-anchor="end" class="xt">PCA</text><text transform="translate(248.84,407.4) rotate(-45) scale(0.94,1.12)" text-anchor="end" class="xt">GS</text><text transform="translate(262.46,407.4) rotate(-45) scale(0.94,1.12)" text-anchor="end" class="xt">LP</text><text transform="translate(276.08,407.4) rotate(-45) scale(0.94,1.12)" text-anchor="end" class="xt">GP</text><text transform="translate(289.7,407.4) rotate(-45) scale(0.94,1.12)" text-anchor="end" class="xt">DWT</text><text transform="translate(303.32,407.4) rotate(-45) scale(0.94,1.12)" text-anchor="end" class="xt">DTCWT</text><text transform="translate(316.94,407.4) rotate(-45) scale(0.94,1.12)" text-anchor="end" class="xt">CVT</text><text transform="translate(330.56,407.4) rotate(-45) scale(0.94,1.12)" text-anchor="end" class="xt">NSCT</text><text transform="translate(344.18,407.4) rotate(-45) scale(0.94,1.12)" text-anchor="end" class="xt">SR</text><text transform="translate(357.8,407.4) rotate(-45) scale(0.94,1.12)" text-anchor="end" class="xt">GTF</text><path d="M217.4,351L231.02,352.7L244.64,351.1L258.26,334.3L271.88,345L285.5,342.2L299.12,339L312.74,342.2L326.36,333.2L339.98,337.1L353.6,351.2" stroke="#0072BD" stroke-width="1.2" fill="none" stroke-linejoin="round"/><g fill="#0072BD"><path d="M214.9,349.12L219.9,349.12L217.4,353.62Z"/><path d="M228.52,350.82L233.52,350.82L231.02,355.32Z"/><path d="M242.14,349.23L247.14,349.23L244.64,353.73Z"/><path d="M255.76,332.43L260.76,332.43L258.26,336.93Z"/><path d="M269.38,343.12L274.38,343.12L271.88,347.62Z"/><path d="M283,340.32L288,340.32L285.5,344.82Z"/><path d="M296.62,337.12L301.62,337.12L299.12,341.62Z"/><path d="M310.24,340.32L315.24,340.32L312.74,344.82Z"/><path d="M323.86,331.32L328.86,331.32L326.36,335.82Z"/><path d="M337.48,335.23L342.48,335.23L339.98,339.73Z"/><path d="M351.1,349.32L356.1,349.32L353.6,353.82Z"/></g><path d="M217.4,365.5L231.02,366.6L244.64,365.1L258.26,341.9L271.88,351.6L285.5,350L299.12,345.3L312.74,349.7L326.36,340.6L339.98,343.7L353.6,364.8" stroke="#D95319" stroke-width="1.2" fill="none" stroke-linejoin="round"/><g fill="#D95319"><circle cx="217.4" cy="365.5" r="1.9"/><circle cx="231.02" cy="366.6" r="1.9"/><circle cx="244.64" cy="365.1" r="1.9"/><circle cx="258.26" cy="341.9" r="1.9"/><circle cx="271.88" cy="351.6" r="1.9"/><circle cx="285.5" cy="350" r="1.9"/><circle cx="299.12" cy="345.3" r="1.9"/><circle cx="312.74" cy="349.7" r="1.9"/><circle cx="326.36" cy="340.6" r="1.9"/><circle cx="339.98" cy="343.7" r="1.9"/><circle cx="353.6" cy="364.8" r="1.9"/></g><path d="M217.4,386.2L231.02,387.3L244.64,378.4L258.26,324.9L271.88,329.6L285.5,334.8L299.12,328L312.74,332.3L326.36,324.6L339.98,316.7L353.6,389.7" stroke="#EDB120" stroke-width="1.2" fill="none" stroke-linejoin="round"/><g fill="#EDB120"><rect x="216.1" y="384.9" width="2.6" height="2.6"/><rect x="229.72" y="386" width="2.6" height="2.6"/><rect x="243.34" y="377.1" width="2.6" height="2.6"/><rect x="256.96" y="323.6" width="2.6" height="2.6"/><rect x="270.58" y="328.3" width="2.6" height="2.6"/><rect x="284.2" y="333.5" width="2.6" height="2.6"/><rect x="297.82" y="326.7" width="2.6" height="2.6"/><rect x="311.44" y="331" width="2.6" height="2.6"/><rect x="325.06" y="323.3" width="2.6" height="2.6"/><rect x="338.68" y="315.4" width="2.6" height="2.6"/><rect x="352.3" y="388.4" width="2.6" height="2.6"/></g><rect x="312.1" y="376.5" width="38.5" height="21.3" fill="#fff" stroke="#8a8a8a" stroke-width="0.8"/><path d="M313.7,381H326.1" stroke="#0072BD" stroke-width="1.6"/><g fill="#0072BD"><path d="M317.2,378.98L322.6,378.98L319.9,383.83Z"/></g><text x="326.9" y="383.1" class="lg">urban</text><path d="M313.7,387.8H326.1" stroke="#D95319" stroke-width="1.6"/><circle cx="319.9" cy="387.8" r="2.0" fill="#D95319"/><text x="326.9" y="389.9" class="lg">suburban</text><path d="M313.7,394.6H326.1" stroke="#EDB120" stroke-width="1.6"/><circle cx="319.9" cy="394.6" r="1.6" fill="#EDB120"/><text x="326.9" y="396.7" class="lg">mountain</text><text x="282.7" y="436" text-anchor="middle" class="sub">(h)</text></g>
<g><rect x="405.2" y="301.9" width="136.3" height="98.9" fill="none" stroke="#a3a3a3" stroke-width="1"/><path d="M418.83,400.8v-1.4M418.83,301.9v1.4M432.46,400.8v-1.4M432.46,301.9v1.4M446.09,400.8v-1.4M446.09,301.9v1.4M459.72,400.8v-1.4M459.72,301.9v1.4M473.35,400.8v-1.4M473.35,301.9v1.4M486.98,400.8v-1.4M486.98,301.9v1.4M500.61,400.8v-1.4M500.61,301.9v1.4M514.24,400.8v-1.4M514.24,301.9v1.4M527.87,400.8v-1.4M527.87,301.9v1.4M405.2,396.4h1.4M541.5,396.4h-1.4M405.2,368.37h1.4M541.5,368.37h-1.4M405.2,340.33h1.4M541.5,340.33h-1.4M405.2,312.3h1.4M541.5,312.3h-1.4" stroke="#a3a3a3" stroke-width="0.8" fill="none"/><text x="403.5" y="398.9" text-anchor="end" class="t">0.25</text><text x="403.5" y="370.87" text-anchor="end" class="t">0.3</text><text x="403.5" y="342.83" text-anchor="end" class="t">0.35</text><text x="403.5" y="314.8" text-anchor="end" class="t">0.4</text><text transform="translate(388.73,351.35) rotate(-90)" text-anchor="middle" class="yl">Qcb</text><text transform="translate(409.4,407.4) rotate(-45) scale(0.94,1.12)" text-anchor="end" class="xt">IHS</text><text transform="translate(423.03,407.4) rotate(-45) scale(0.94,1.12)" text-anchor="end" class="xt">PCA</text><text transform="translate(436.66,407.4) rotate(-45) scale(0.94,1.12)" text-anchor="end" class="xt">GS</text><text transform="translate(450.29,407.4) rotate(-45) scale(0.94,1.12)" text-anchor="end" class="xt">LP</text><text transform="translate(463.92,407.4) rotate(-45) scale(0.94,1.12)" text-anchor="end" class="xt">GP</text><text transform="translate(477.55,407.4) rotate(-45) scale(0.94,1.12)" text-anchor="end" class="xt">DWT</text><text transform="translate(491.18,407.4) rotate(-45) scale(0.94,1.12)" text-anchor="end" class="xt">DTCWT</text><text transform="translate(504.81,407.4) rotate(-45) scale(0.94,1.12)" text-anchor="end" class="xt">CVT</text><text transform="translate(518.44,407.4) rotate(-45) scale(0.94,1.12)" text-anchor="end" class="xt">NSCT</text><text transform="translate(532.07,407.4) rotate(-45) scale(0.94,1.12)" text-anchor="end" class="xt">SR</text><text transform="translate(545.7,407.4) rotate(-45) scale(0.94,1.12)" text-anchor="end" class="xt">GTF</text><path d="M405.2,318.9L418.83,319.4L432.46,316.7L446.09,324.9L459.72,361.6L473.35,370.7L486.98,359.7L500.61,364.5L514.24,313.6L527.87,305.7L541.5,353.5" stroke="#0072BD" stroke-width="1.2" fill="none" stroke-linejoin="round"/><g fill="#0072BD"><path d="M402.7,317.02L407.7,317.02L405.2,321.52Z"/><path d="M416.33,317.52L421.33,317.52L418.83,322.02Z"/><path d="M429.96,314.82L434.96,314.82L432.46,319.32Z"/><path d="M443.59,323.02L448.59,323.02L446.09,327.52Z"/><path d="M457.22,359.73L462.22,359.73L459.72,364.23Z"/><path d="M470.85,368.82L475.85,368.82L473.35,373.32Z"/><path d="M484.48,357.82L489.48,357.82L486.98,362.32Z"/><path d="M498.11,362.62L503.11,362.62L500.61,367.12Z"/><path d="M511.74,311.73L516.74,311.73L514.24,316.23Z"/><path d="M525.37,303.82L530.37,303.82L527.87,308.32Z"/><path d="M539,351.62L544,351.62L541.5,356.12Z"/></g><path d="M405.2,309.6L418.83,309.9L432.46,308.8L446.09,323L459.72,362.7L473.35,371.4L486.98,354.1L500.61,369.1L514.24,318.3L527.87,337.8L541.5,315.5" stroke="#D95319" stroke-width="1.2" fill="none" stroke-linejoin="round"/><g fill="#D95319"><circle cx="405.2" cy="309.6" r="1.9"/><circle cx="418.83" cy="309.9" r="1.9"/><circle cx="432.46" cy="308.8" r="1.9"/><circle cx="446.09" cy="323" r="1.9"/><circle cx="459.72" cy="362.7" r="1.9"/><circle cx="473.35" cy="371.4" r="1.9"/><circle cx="486.98" cy="354.1" r="1.9"/><circle cx="500.61" cy="369.1" r="1.9"/><circle cx="514.24" cy="318.3" r="1.9"/><circle cx="527.87" cy="337.8" r="1.9"/><circle cx="541.5" cy="315.5" r="1.9"/></g><path d="M405.2,323.3L418.83,315.4L432.46,326.9L446.09,318.6L459.72,350.5L473.35,353.6L486.98,340.7L500.61,364.8L514.24,313.1L527.87,324.9L541.5,376.1" stroke="#EDB120" stroke-width="1.2" fill="none" stroke-linejoin="round"/><g fill="#EDB120"><rect x="403.9" y="322" width="2.6" height="2.6"/><rect x="417.53" y="314.1" width="2.6" height="2.6"/><rect x="431.16" y="325.6" width="2.6" height="2.6"/><rect x="444.79" y="317.3" width="2.6" height="2.6"/><rect x="458.42" y="349.2" width="2.6" height="2.6"/><rect x="472.05" y="352.3" width="2.6" height="2.6"/><rect x="485.68" y="339.4" width="2.6" height="2.6"/><rect x="499.31" y="363.5" width="2.6" height="2.6"/><rect x="512.94" y="311.8" width="2.6" height="2.6"/><rect x="526.57" y="323.6" width="2.6" height="2.6"/><rect x="540.2" y="374.8" width="2.6" height="2.6"/></g><rect x="500" y="376.5" width="38.5" height="21.3" fill="#fff" stroke="#8a8a8a" stroke-width="0.8"/><path d="M501.6,381H514" stroke="#0072BD" stroke-width="1.6"/><g fill="#0072BD"><path d="M505.1,378.98L510.5,378.98L507.8,383.83Z"/></g><text x="514.8" y="383.1" class="lg">urban</text><path d="M501.6,387.8H514" stroke="#D95319" stroke-width="1.6"/><circle cx="507.8" cy="387.8" r="2.0" fill="#D95319"/><text x="514.8" y="389.9" class="lg">suburban</text><path d="M501.6,394.6H514" stroke="#EDB120" stroke-width="1.6"/><circle cx="507.8" cy="394.6" r="1.6" fill="#EDB120"/><text x="514.8" y="396.7" class="lg">mountain</text><text x="470.55" y="436" text-anchor="middle" class="sub">(i)</text></g>
</svg></body></html>
